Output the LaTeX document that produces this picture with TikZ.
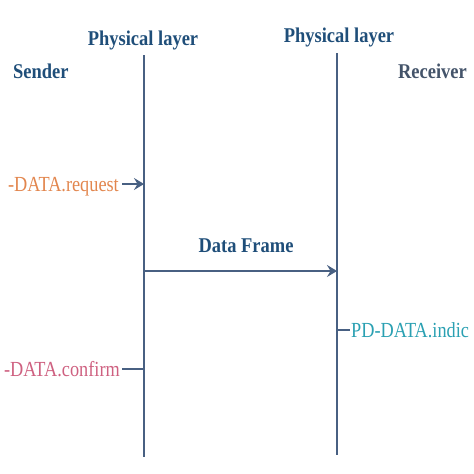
\documentclass[tikz,border=0pt]{standalone}
\usepackage{fontspec}
\usepackage{graphicx}
\setmainfont{Liberation Serif}
\usetikzlibrary{arrows.meta}
\definecolor{hdblue}{RGB}{31,78,121}
\definecolor{rcvblue}{RGB}{68,84,106}
\definecolor{lineblue}{RGB}{72,96,130}
\definecolor{reqorange}{RGB}{226,134,78}
\definecolor{cnfpink}{RGB}{206,96,128}
\definecolor{indteal}{RGB}{42,160,178}
\newcommand{\hdtext}[1]{\scalebox{0.88}[1]{#1}}
\newcommand{\primtext}[1]{\scalebox{0.85}[1]{#1}}
\tikzset{
  heading/.style={font=\rmfamily\bfseries\fontsize{21}{24}\selectfont, inner sep=0pt},
  prim/.style={font=\rmfamily\mdseries\fontsize{21.5}{24}\selectfont, inner sep=0pt},
  lifeline/.style={draw=lineblue, line width=1.8pt},
  msg/.style={draw=lineblue, line width=1.8pt, -{Stealth[length=10pt,width=12pt,inset=3.5pt]}},
  tick/.style={draw=lineblue, line width=1.8pt},
}
\begin{document}
\begin{tikzpicture}[x=1pt,y=-1pt]
\useasboundingbox (0,0) rectangle (474,474);
% headings
\node[heading, text=hdblue, anchor=base] (phyL) at (143,45) {\hdtext{Physical layer}};
\node[heading, text=hdblue, anchor=base] (phyR) at (339,42) {\hdtext{Physical layer}};
\node[heading, text=hdblue, anchor=base west] (sender) at (13,78) {\hdtext{Sender}};
\node[heading, text=rcvblue, anchor=base east] (receiver) at (467,78) {\hdtext{Receiver}};
% lifelines
\coordinate (Ltop) at (144,55);
\coordinate (Lbot) at (144,457);
\coordinate (Rtop) at (337,53);
\coordinate (Rbot) at (337,455);
\draw[lifeline] (Ltop) -- (Lbot);
\draw[lifeline] (Rtop) -- (Rbot);
% request
\node[prim, text=reqorange, anchor=base east] (req) at (119,191) {\primtext{-DATA.request}};
\coordinate (reqS) at (122,184);
\coordinate (reqE) at (144,184);
\draw[msg] (reqS) -- (reqE);
% data frame
\node[heading, text=hdblue, anchor=base] (df) at (246,252) {\hdtext{Data Frame}};
\coordinate (dfS) at (145,271);
\coordinate (dfE) at (337,271);
\draw[msg] (dfS) -- (dfE);
% indication
\coordinate (indS) at (337,330);
\coordinate (indE) at (350,330);
\draw[tick] (indS) -- (indE);
\node[prim, text=indteal, anchor=base west] (ind) at (351,337) {\primtext{PD-DATA.indic}};
% confirm
\coordinate (cnfS) at (144,369);
\coordinate (cnfE) at (122,369);
\draw[tick] (cnfS) -- (cnfE);
\node[prim, text=cnfpink, anchor=base east] (cnf) at (120,376) {\primtext{-DATA.confirm}};
\end{tikzpicture}
\end{document}
